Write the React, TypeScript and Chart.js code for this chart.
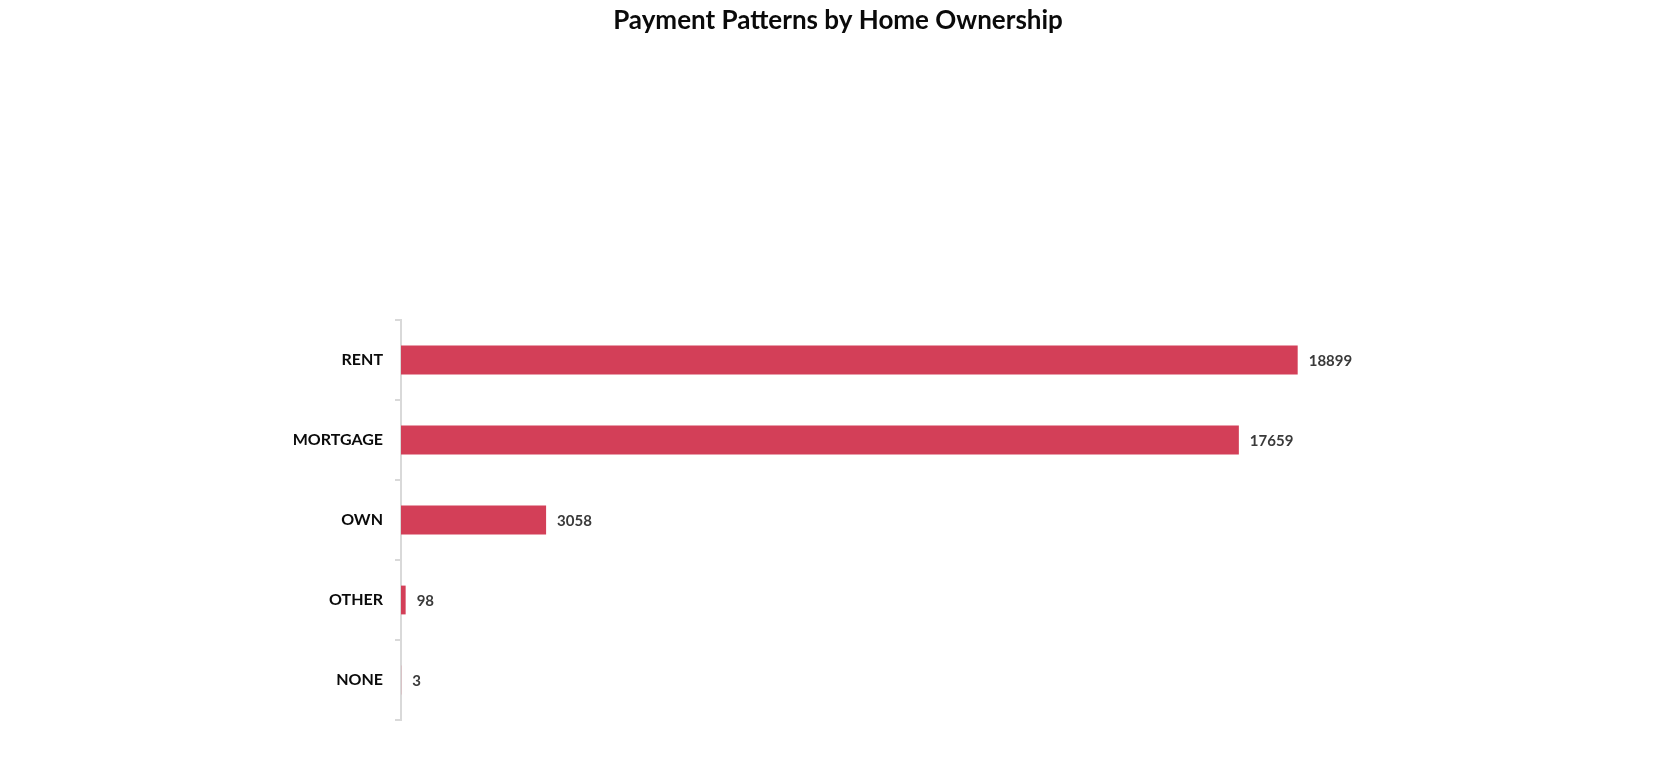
import React, { useEffect, useRef } from "react";
import { Chart, registerables } from "chart.js";

Chart.register(...registerables);

const categories = ["RENT", "MORTGAGE", "OWN", "OTHER", "NONE"];
const counts = [18899, 17659, 3058, 98, 3];
const titleText = "Payment Patterns by Home Ownership";
const axisMax = 20950;

const valueLabels = {
  id: "valueLabels",
  afterDatasetsDraw(chart: any) {
    const ctx = chart.ctx;
    const meta = chart.getDatasetMeta(0);
    const data = chart.data.datasets[0].data as number[];
    ctx.save();
    ctx.font = "bold 15px Lato";
    ctx.fillStyle = "#3a3a3a";
    ctx.textAlign = "left";
    ctx.textBaseline = "middle";
    meta.data.forEach((bar: any, i: number) => {
      ctx.fillText(String(data[i]), bar.x + 11, bar.y + 1);
    });
    ctx.restore();
  },
};

export default function App() {
  const ref = useRef<HTMLCanvasElement | null>(null);
  useEffect(() => {
    if (!ref.current) return;
    const chart = new Chart(ref.current, {
      type: "bar",
      data: {
        labels: categories,
        datasets: [
          {
            data: counts,
            backgroundColor: "#d33f58",
            categoryPercentage: 0.4,
            barPercentage: 0.9,
          },
        ],
      },
      options: {
        indexAxis: "y",
        animation: false,
        responsive: true,
        maintainAspectRatio: false,
        layout: { padding: { left: 273, right: 273, top: 0, bottom: 50 } },
        plugins: {
          legend: { display: false },
          tooltip: { enabled: false },
          title: {
            display: true,
            text: titleText,
            color: "#0a0a0a",
            font: { family: "Lato", size: 26, weight: "bold", lineHeight: 1 },
            padding: { top: 0, bottom: 286 },
          },
        },
        scales: {
          x: { display: false, min: 0, max: axisMax },
          y: {
            afterFit(scale: any) {
              scale.width = 120;
            },
            grid: {
              drawOnChartArea: false,
              drawTicks: true,
              tickLength: 6,
              color: "#d9d9d9",
              lineWidth: 2,
            },
            border: { display: true, color: "#d9d9d9", width: 2 },
            ticks: {
              color: "#0a0a0a",
              padding: 12,
              font: { family: "Lato", size: 16, weight: "bold" },
            },
          },
        },
      },
      plugins: [valueLabels],
    });
    return () => chart.destroy();
  }, []);
  return (
    <div style={{ position: "relative", width: "1660px", height: "762px" }}>
      <canvas ref={ref} />
    </div>
  );
}
